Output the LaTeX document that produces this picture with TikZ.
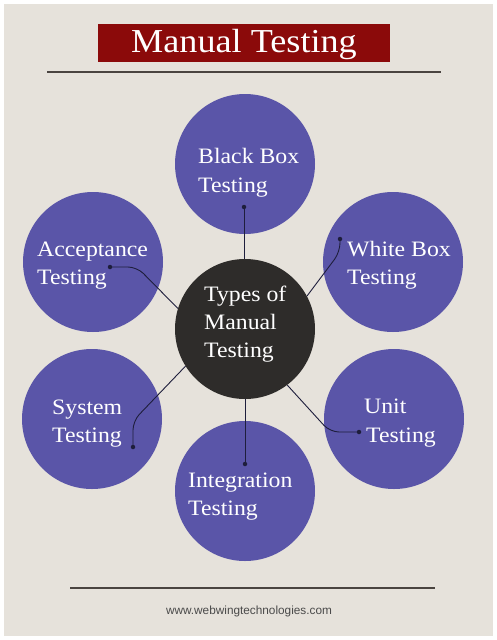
\documentclass[tikz,border=0pt]{standalone}
\usepackage{fontspec}
\setmainfont{Liberation Serif}[FakeStretch=1.08]
\newfontfamily\footfont{Liberation Sans}
\definecolor{bgc}{HTML}{E6E2DB}
\definecolor{titlered}{HTML}{8B0A0A}
\definecolor{topicblue}{HTML}{5A55A8}
\definecolor{hubdark}{HTML}{2E2C2A}
\definecolor{rulegray}{HTML}{4A4440}
\definecolor{connc}{HTML}{1E1E3C}
\definecolor{footgray}{HTML}{4A4A4A}
\tikzset{
  topic/.style={circle, fill=topicblue, minimum size=140pt, inner sep=0pt},
  hub/.style={circle, fill=hubdark, minimum size=140pt, inner sep=0pt},
  lbl/.style={anchor=base west, inner sep=0pt, text=white, font=\fontsize{22}{28}\selectfont},
  conn/.style={draw=connc, line width=0.9pt, rounded corners=9pt},
  dotc/.style={circle, fill=connc, minimum size=4.5pt, inner sep=0pt},
  rulel/.style={draw=rulegray, line width=1.3pt}
}
\begin{document}
\begin{tikzpicture}[x=1pt,y=-1pt]
\useasboundingbox (0,0) rectangle (497,640);
\fill[white] (0,0) rectangle (497,640);
\fill[bgc] (4,4) rectangle (493,636);
% title
\node[fill=titlered, minimum width=292pt, minimum height=38pt, inner sep=0pt] (titlebox) at (244,43) {};
\node[anchor=base, inner sep=0pt, text=white, font=\fontsize{33.5}{36}\selectfont] (title) at (244,52) {Manual Testing};
\coordinate (tl1) at (47,72); \coordinate (tl2) at (441,72);
\draw[rulel] (tl1) -- (tl2);
% circles
\node[topic] (bb) at (245,164) {};
\node[topic] (wb) at (393,262) {};
\node[topic] (acc) at (93,262) {};
\node[topic] (sys) at (92,419) {};
\node[topic] (unit) at (394,419) {};
\node[topic] (integ) at (245,491) {};
\node[hub] (ctr) at (245,329) {};
% dots
\node[dotc] (bbdot) at (244,207) {};
\node[dotc] (wbdot) at (340,239) {};
\node[dotc] (accdot) at (110,267) {};
\node[dotc] (sysdot) at (133,447) {};
\node[dotc] (unitdot) at (359,432) {};
\node[dotc] (intdot) at (245,464) {};
% connectors
\draw[conn] (bbdot.center) -- (bbdot.center |- ctr.north);
\draw[conn] (wbdot.center) -- ++(0,13) -- (ctr.28);
\draw[conn] (accdot.center) -- ++(27,0) -- (ctr.163);
\draw[conn] (sysdot.center) -- ++(0,-26) -- (ctr.212);
\draw[conn] (unitdot.center) -- ++(-29,0) -- (ctr.-53);
\draw[conn] (ctr.south) -- (intdot.center);
% labels
\node[lbl] (bb1) at (198,163) {Black Box};
\node[lbl] (bb2) at (198,192) {Testing};
\node[lbl] (wb1) at (347,256) {White Box};
\node[lbl] (wb2) at (347,284) {Testing};
\node[lbl] (acc1) at (37,256) {Acceptance};
\node[lbl] (acc2) at (37,284) {Testing};
\node[lbl] (ctr1) at (204,301) {Types of};
\node[lbl] (ctr2) at (204,329) {Manual};
\node[lbl] (ctr3) at (204,357) {Testing};
\node[lbl] (sys1) at (52,414) {System};
\node[lbl] (sys2) at (52,442) {Testing};
\node[lbl] (unit1) at (364,413) {Unit};
\node[lbl] (unit2) at (366,442) {Testing};
\node[lbl] (int1) at (188,487) {Integration};
\node[lbl] (int2) at (188,515) {Testing};
% footer
\coordinate (fl1) at (70,588); \coordinate (fl2) at (435,588);
\draw[rulel] (fl1) -- (fl2);
\node[anchor=base, inner sep=0pt, text=footgray, font=\footfont\fontsize{11.8}{14}\selectfont] (foot) at (249,614) {www.webwingtechnologies.com};
\end{tikzpicture}
\end{document}
